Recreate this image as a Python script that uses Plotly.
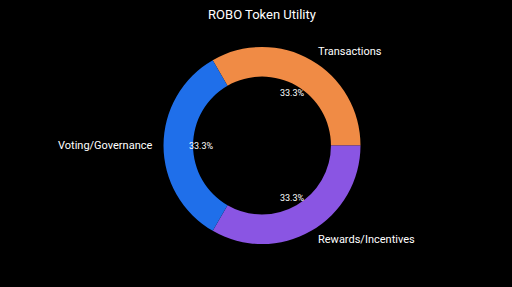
import math
import plotly.graph_objects as go

labels = ["Transactions", "Rewards/Incentives", "Voting/Governance"]
values = [1, 1, 1]
colors = ["#F08B45", "#8A55E3", "#1F6FEA"]
title = "ROBO Token Utility"

W, H = 512, 287
ml, mr, mt, mb = 12, 0, 47, 43
pw, ph = W - ml - mr, H - mt - mb
R = min(pw, ph) / 2.0
rotation = -30  # start angle of first slice (degrees clockwise from 12 o'clock)

fig = go.Figure(go.Pie(
    labels=labels, values=values, hole=0.70, sort=False,
    direction="clockwise", rotation=rotation,
    marker=dict(colors=colors, line=dict(width=0)),
    textinfo="none", hoverinfo="label+percent", showlegend=False,
))

total = sum(values)
ann = []
cum = 0.0
for lab, v in zip(labels, values):
    mid = rotation + (cum + v / 2.0) / total * 360.0
    cum += v
    a = math.radians(mid)
    dx, dy = math.sin(a), math.cos(a)
    # percentage text inside the hole
    rp = 0.61 * R
    ann.append(dict(x=0.5 + dx * rp / pw, y=0.5 + dy * rp / ph, xref="paper", yref="paper",
                    text=f"{v / total * 100:.1f}%", showarrow=False,
                    font=dict(size=9, color="#ffffff", family="Roboto"),
                    xanchor="center", yanchor="middle"))
    # category label outside
    rl = 1.1 * R
    ann.append(dict(x=0.5 + dx * rl / pw, y=0.5 + dy * rl / ph, xref="paper", yref="paper",
                    text=lab, showarrow=False,
                    font=dict(size=11, color="#ffffff", family="Roboto"),
                    xanchor="left" if dx > 0 else "right", yanchor="middle"))

fig.update_layout(
    width=W, height=H,
    margin=dict(l=ml, r=mr, t=mt, b=mb),
    paper_bgcolor="#000000", plot_bgcolor="#000000",
    title=dict(text=title, x=(ml + pw / 2) / W, xanchor="center", y=1 - 14 / H, yanchor="middle",
               font=dict(size=13, color="#ffffff", family="Roboto")),
    annotations=ann,
)

fig.write_html("out.html")
